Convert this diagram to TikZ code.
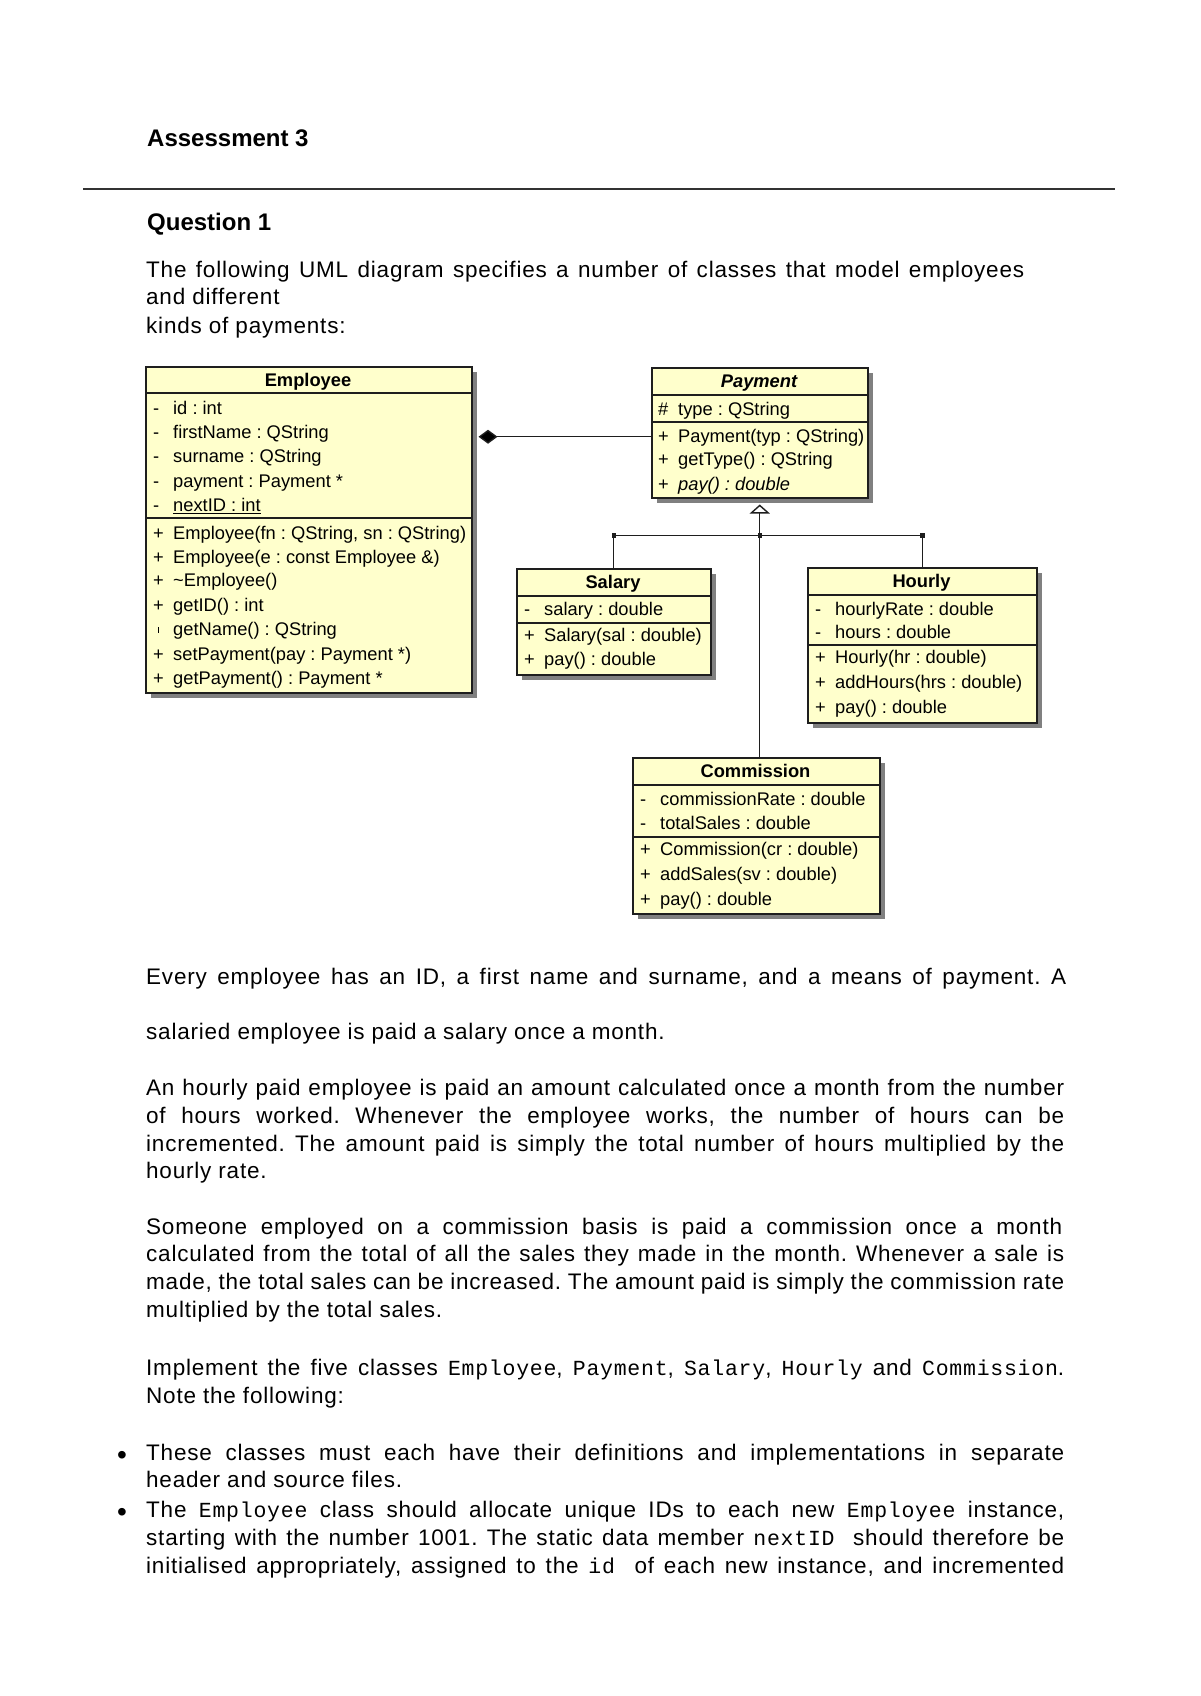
\documentclass[tikz,border=0pt]{standalone}
\usepackage{fontspec}
\setmainfont{Liberation Sans}
\newfontfamily\umlfont{Liberation Sans}
\newfontfamily\headfont{Liberation Sans}
\newfontfamily\bodyfont[LetterSpace=3.5]{Liberation Sans}
\newfontfamily\bodymono[LetterSpace=3.5]{Liberation Mono}
\usetikzlibrary{arrows.meta,shadows,calc}
\definecolor{umlfill}{RGB}{255,255,204}
\definecolor{umlline}{RGB}{30,30,30}
\definecolor{umlshadow}{RGB}{128,128,128}
\frenchspacing
\newcommand\vis[1]{\makebox[20pt][l]{#1}}
\newcommand\mon[1]{{\bodymono\fontsize{21.5}{26}\selectfont #1}}
\newcommand\tick{\hspace*{4.5pt}\raisebox{3pt}{\rule{1.6pt}{6pt}}}
\newcommand\jline[2]{\makebox[#1][s]{\spaceskip=.31em plus .8em minus .2em\relax #2}}
\tikzset{
  cls/.style={draw=umlline, line width=1.5pt, fill=umlfill, anchor=north west, inner sep=0pt,
    drop shadow={shadow xshift=5pt, shadow yshift=-5pt, fill=umlshadow, opacity=1}},
  sepline/.style={draw=umlline, line width=1.5pt},
  row/.style={anchor=base west, inner sep=0pt, font=\umlfont\fontsize{18.3}{22}\selectfont},
  ctitle/.style={anchor=base, inner sep=0pt, font=\umlfont\bfseries\fontsize{18.3}{22}\selectfont},
  body/.style={anchor=base west, inner sep=0pt, font=\bodyfont\fontsize{22.5}{27}\selectfont},
  head/.style={anchor=base west, inner sep=0pt, font=\headfont\bfseries\fontsize{24}{28}\selectfont},
  bul/.style={anchor=base, inner sep=0pt, font=\bodyfont\fontsize{28}{28}\selectfont},
  link/.style={draw=umlline, line width=1.4pt},
  comp/.style={link, {Diamond[length=19pt,width=14pt,fill=black]}-, shorten <=6pt},
  gen/.style={link, -{Triangle[open,length=9pt,width=20pt,fill=white]}, shorten >=6pt},
  junction/.style={rectangle, fill=umlline, inner sep=0pt, minimum size=4.5pt},
  rulestyle/.style={draw=black!80, line width=1.4pt},
}
\begin{document}
\begin{tikzpicture}[x=1pt,y=-1pt]
\useasboundingbox (0,0) rectangle (1200,1696);

% ---------- header ----------
\node[head] (h1) at (147,147) {Assessment 3};
\draw[rulestyle] (83,189) -- (1115,189);
\node[head] (h2) at (147,231) {Question 1};
\node[body] (p1) at (146,277) {\jline{878pt}{The following UML diagram specifies a number of classes that model employees}};
\node[body] (p2) at (146,304) {and different};
\node[body] (p3) at (146,333) {kinds of payments:};

% ---------- Employee ----------
\node[cls, minimum width=326, minimum height=326] (emp) at (145,366) {};
\draw[sepline] (emp.west |- 0,393) -- (emp.east |- 0,393);
\draw[sepline] (emp.west |- 0,518) -- (emp.east |- 0,518);
\node[ctitle] (empt) at (308,386.5) {Employee};
\node[row] (empa1) at (153,414.5) {\vis{-}id : int};
\node[row] (empa2) at (153,438.5) {\vis{-}firstName : QString};
\node[row] (empa3) at (153,462.5) {\vis{-}surname : QString};
\node[row] (empa4) at (153,487.5) {\vis{-}payment : Payment *};
\node[row] (empa5) at (153,511.5) {\vis{-}\underline{nextID : int}};
\node[row] (empm1) at (153,539.5) {\vis{+}Employee(fn : QString, sn : QString)};
\node[row] (empm2) at (153,563.5) {\vis{+}Employee(e : const Employee \&)};
\node[row] (empm3) at (153,586.5) {\vis{+}\textasciitilde Employee()};
\node[row] (empm4) at (153,611.5) {\vis{+}getID() : int};
\node[row] (empm5) at (153,635.5) {\vis{\tick}getName() : QString};
\node[row] (empm6) at (153,660.5) {\vis{+}setPayment(pay : Payment *)};
\node[row] (empm7) at (153,684.5) {\vis{+}getPayment() : Payment *};

% ---------- Payment ----------
\node[cls, minimum width=216, minimum height=130] (pay) at (651,367) {};
\draw[sepline] (pay.west |- 0,395) -- (pay.east |- 0,395);
\draw[sepline] (pay.west |- 0,422) -- (pay.east |- 0,422);
\node[ctitle] (payt) at (759,387.5) {\itshape Payment};
\node[row] (paya1) at (658,415.5) {\vis{\#}type : QString};
\node[row] (paym1) at (658,442.5) {\vis{+}Payment(typ : QString)};
\node[row] (paym2) at (658,465.5) {\vis{+}getType() : QString};
\node[row] (paym3) at (658,490.5) {\vis{+}\textit{pay() : double}};

% ---------- Salary ----------
\node[cls, minimum width=194, minimum height=106] (sal) at (516,568) {};
\draw[sepline] (sal.west |- 0,596) -- (sal.east |- 0,596);
\draw[sepline] (sal.west |- 0,623) -- (sal.east |- 0,623);
\node[ctitle] (salt) at (613,588.5) {Salary};
\node[row] (sala1) at (524,615.5) {\vis{-}salary : double};
\node[row] (salm1) at (524,641.5) {\vis{+}Salary(sal : double)};
\node[row] (salm2) at (524,665.5) {\vis{+}pay() : double};

% ---------- Hourly ----------
\node[cls, minimum width=229, minimum height=155] (hour) at (807,567) {};
\draw[sepline] (hour.west |- 0,595) -- (hour.east |- 0,595);
\draw[sepline] (hour.west |- 0,645) -- (hour.east |- 0,645);
\node[ctitle] (hourt) at (921.5,587.5) {Hourly};
\node[row] (houra1) at (815,615) {\vis{-}hourlyRate : double};
\node[row] (houra2) at (815,638) {\vis{-}hours : double};
\node[row] (hourm1) at (815,663) {\vis{+}Hourly(hr : double)};
\node[row] (hourm2) at (815,688) {\vis{+}addHours(hrs : double)};
\node[row] (hourm3) at (815,713) {\vis{+}pay() : double};

% ---------- Commission ----------
\node[cls, minimum width=247, minimum height=156] (comm) at (632,757) {};
\draw[sepline] (comm.west |- 0,785) -- (comm.east |- 0,785);
\draw[sepline] (comm.west |- 0,837) -- (comm.east |- 0,837);
\node[ctitle] (commt) at (755.5,777.5) {Commission};
\node[row] (comma1) at (640,805.5) {\vis{-}commissionRate : double};
\node[row] (comma2) at (640,829) {\vis{-}totalSales : double};
\node[row] (commm1) at (640,855) {\vis{+}Commission(cr : double)};
\node[row] (commm2) at (640,880) {\vis{+}addSales(sv : double)};
\node[row] (commm3) at (640,905.5) {\vis{+}pay() : double};

% ---------- connectors ----------
\coordinate (compend) at ([yshift=-4pt]pay.west);
\draw[comp] (emp.east |- compend) -- (compend);
\coordinate (j) at ([yshift=-37pt]pay.south);
\draw[link] (sal.north) |- (j) -| (hour.north);
\draw[gen] (pay.south |- comm.north) -- (pay.south);
\node[junction] (d1) at (sal.north |- j) {};
\node[junction] (d2) at (j) {};
\node[junction] (d3) at (hour.north |- j) {};

% ---------- body text ----------
\node[body] (b1) at (146,984) {\jline{920pt}{Every employee has an ID, a first name and surname, and a means of payment. A}};
\node[body] (b2) at (146,1039) {salaried employee is paid a salary once a month.};
\node[body] (b3) at (146,1095) {\jline{918pt}{An hourly paid employee is paid an amount calculated once a month from the number}};
\node[body] (b4) at (146,1123) {\jline{918pt}{of hours worked. Whenever the employee works, the number of hours can be}};
\node[body] (b5) at (146,1151) {\jline{918pt}{incremented. The amount paid is simply the total number of hours multiplied by the}};
\node[body] (b6) at (146,1178) {hourly rate.};
\node[body] (b7) at (146,1234) {\jline{916pt}{Someone employed on a commission basis is paid a commission once a month}};
\node[body] (b8) at (146,1261) {\jline{918pt}{calculated from the total of all the sales they made in the month. Whenever a sale is}};
\node[body] (b9) at (146,1289) {\jline{918pt}{made, the total sales can be increased. The amount paid is simply the commission rate}};
\node[body] (b10) at (146,1317) {multiplied by the total sales.};
\node[body] (b11) at (146,1375) {\jline{918pt}{Implement the five classes \mon{Employee}, \mon{Payment}, \mon{Salary}, \mon{Hourly} and \mon{Commission}.}};
\node[body] (b12) at (146,1403) {Note the following:};
\node[bul] (bu1) at (122,1464) {\textbullet};
\node[body] (b13) at (146,1460) {\jline{918pt}{These classes must each have their definitions and implementations in separate}};
\node[body] (b14) at (146,1487) {header and source files.};
\node[bul] (bu2) at (122,1521) {\textbullet};
\node[body] (b15) at (146,1517) {\jline{918pt}{The \mon{Employee} class should allocate unique IDs to each new \mon{Employee} instance,}};
\node[body] (b16) at (146,1545) {\jline{918pt}{starting with the number 1001. The static data member \mon{nextID\ } should therefore be}};
\node[body] (b17) at (146,1573) {\jline{918pt}{initialised appropriately, assigned to the \mon{id\ } of each new instance, and incremented}};
\end{tikzpicture}
\end{document}
